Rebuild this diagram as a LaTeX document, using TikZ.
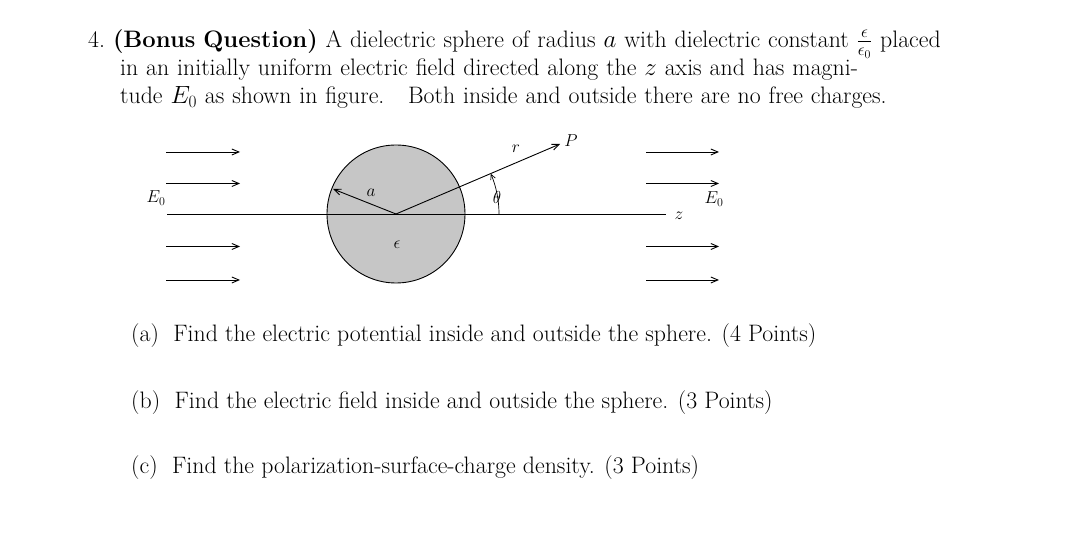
\documentclass[tikz,border=0pt]{standalone}
\usetikzlibrary{arrows.meta}
\begin{document}
\begin{tikzpicture}[x=1pt,y=-1pt,
  fld/.style={-{Straight Barb[length=7pt,width=6pt]},line width=0.9pt},
  lbl/.style={inner sep=0pt,font=\fontsize{17}{19}\selectfont},
  txt/.style={inner sep=0pt,anchor=north west,font=\fontsize{23.8}{27.5}\selectfont}]
\useasboundingbox (0,0) rectangle (1080,534);
\node[txt,text width=919pt,anchor=north west] (q) at (88,29) {\hangindent=32pt\hangafter=1\parfillskip=0pt
4.~\textbf{(Bonus Question)} A dielectric sphere of radius $a$ with dielectric constant $\frac{\epsilon}{\epsilon_0}$ placed\linebreak in an initially uniform electric field directed along the $z$ axis and has magni-\linebreak tude $E_0$ as shown in figure.\quad Both inside and outside there are no free charges.\par};
\coordinate (o) at (396,214);
\fill[gray!45] (o) circle[radius=69];
\draw[line width=0.9pt] (o) circle[radius=69];
\coordinate (zstart) at (167,214);
\coordinate (zend) at (666,214);
\draw[line width=0.9pt] (zstart) -- (zend);
\node[lbl] (z) at (679,216) {$z$};
\foreach \y [count=\i] in {152,183.5,246.5,280}{
  \coordinate (l\i) at (166,\y); \coordinate (le\i) at (240,\y);
  \draw[fld] (l\i) -- (le\i);
  \coordinate (r\i) at (646,\y); \coordinate (re\i) at (719,\y);
  \draw[fld] (r\i) -- (re\i);}
\node[lbl] (e0l) at (156,198) {$E_0$};
\node[lbl] (e0r) at (714,199) {$E_0$};
\coordinate (ra) at (333,189);
\draw[fld] (o) -- (ra);
\node[lbl] (a) at (371,193) {$a$};
\coordinate (p) at (560,144);
\draw[fld] (o) -- (p);
\node[lbl] (P) at (571,141) {$P$};
\node[lbl] (r) at (516,149) {$r$};
\draw[-{Straight Barb[length=5pt,width=5pt]},line width=0.7pt] (499,214) arc[start angle=0,end angle=-23,radius=103];
\node[lbl] (th) at (497,198) {$\theta$};
\node[lbl] (eps) at (397,245) {$\epsilon$};
\node[txt] (qa) at (131,323) {(a)\ \ Find the electric potential inside and outside the sphere. (4 Points)};
\node[txt] (qb) at (131,390) {(b)\ \ Find the electric field inside and outside the sphere. (3 Points)};
\node[txt] (qc) at (131,455) {(c)\ \ Find the polarization-surface-charge density. (3 Points)};
\end{tikzpicture}
\end{document}
